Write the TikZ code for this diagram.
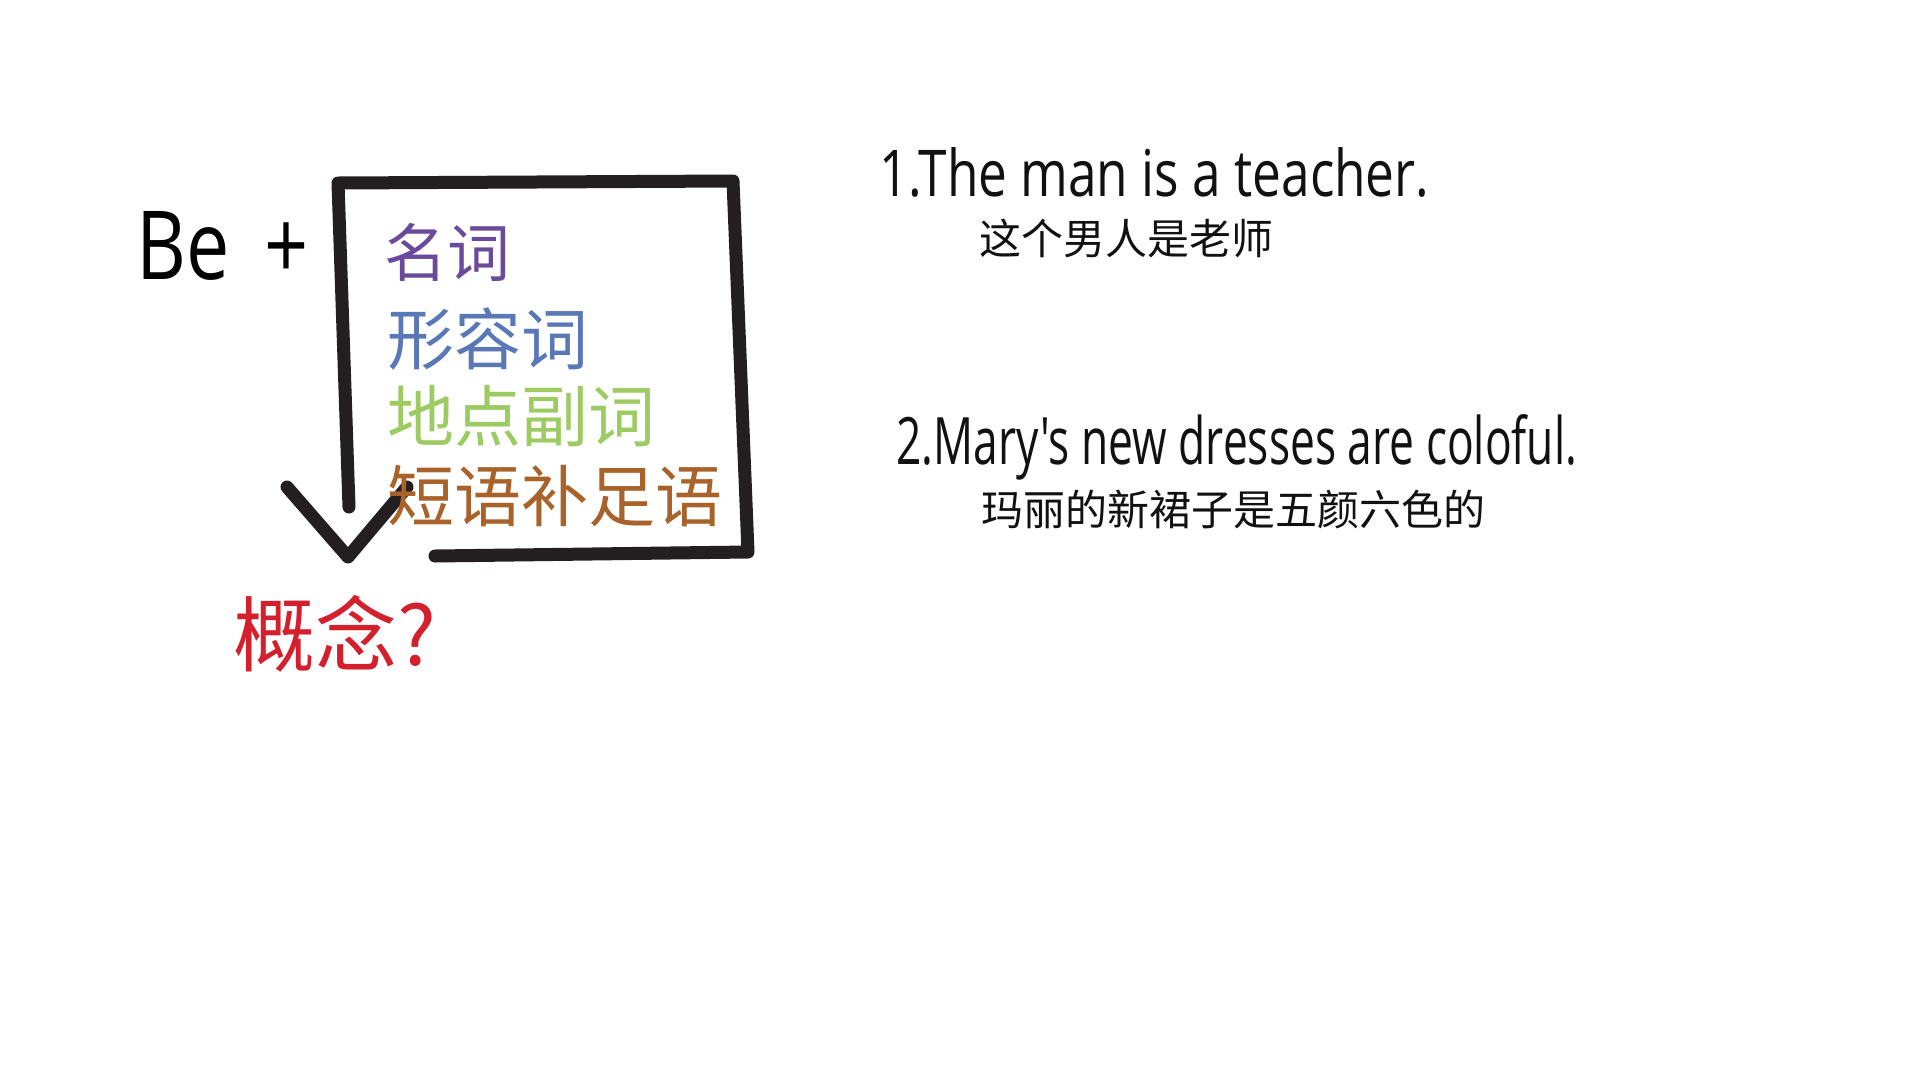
\documentclass[tikz,border=0pt]{standalone}
\usepackage{fontspec}
\setmainfont{Open Sans}
\newfontfamily\cjk{Noto Sans CJK SC}
\newfontfamily\lat{Open Sans}
\definecolor{penc}{HTML}{231F20}
\definecolor{cnoun}{HTML}{6A4A9A}
\definecolor{cadj}{HTML}{5A78B6}
\definecolor{cadv}{HTML}{9CCB62}
\definecolor{cphr}{HTML}{A8622A}
\definecolor{cred}{HTML}{D4202C}
\definecolor{ctxt}{HTML}{111111}
\tikzset{
  pen/.style={line width=13pt, line cap=round, line join=round, draw=penc},
  cjktxt/.style={inner sep=0pt, anchor=west},
  lattxt/.style={inner sep=0pt, anchor=base west, text=ctxt},
}
\begin{document}
\begin{tikzpicture}[x=1pt,y=-1pt]
\fill[white] (0,0) rectangle (1920,1080);
\useasboundingbox (0,0) rectangle (1920,1080);

% hand-drawn box with arrow
\coordinate (lb) at (349,507);
\coordinate (tl) at (338,183);
\coordinate (tr) at (733,181);
\coordinate (br) at (748,552);
\coordinate (bl) at (435,556);
\coordinate (chl) at (287,487);
\coordinate (tip) at (348,557);
\coordinate (chr) at (407,487);
\draw[pen] (lb) -- (tl) -- (tr) -- (br) -- (bl);
\draw[pen] (chl) -- (tip) -- (chr);

% left part
\node[lattxt, text=black] (be) at (136,279) {\lat\resizebox{172pt}{68pt}{Be\hspace{0.45em}+}};

\node[cjktxt, text=cnoun, font={\cjk\fontsize{63pt}{63pt}\selectfont}] (noun) at (384,252) {名词};
\node[cjktxt, text=cadj, font={\cjk\fontsize{67pt}{67pt}\selectfont}] (adj) at (387,339) {形容词};
\node[cjktxt, text=cadv, font={\cjk\fontsize{67pt}{67pt}\selectfont}] (adv) at (387,416) {地点副词};
\node[cjktxt, text=cphr, font={\cjk\fontsize{67pt}{67pt}\selectfont}] (phr) at (387,496) {短语补足语};
\node[cjktxt, text=cred, font={\cjk\fontsize{82pt}{82pt}\selectfont}] (concept) at (233,634) {概念?};

% right part
\node[lattxt] (s1) at (879,196) {\lat\resizebox{550pt}{49pt}{1.The man is a teacher.}};
\node[cjktxt, text=ctxt, font={\cjk\fontsize{42pt}{42pt}\selectfont}] (t1) at (979,238) {这个男人是老师};
\node[lattxt] (s2) at (896,464) {\lat\resizebox{681pt}{50pt}{2.Mary's new dresses are coloful.}};
\node[cjktxt, text=ctxt, font={\cjk\fontsize{42pt}{42pt}\selectfont}] (t2) at (981,509) {玛丽的新裙子是五颜六色的};
\end{tikzpicture}
\end{document}
